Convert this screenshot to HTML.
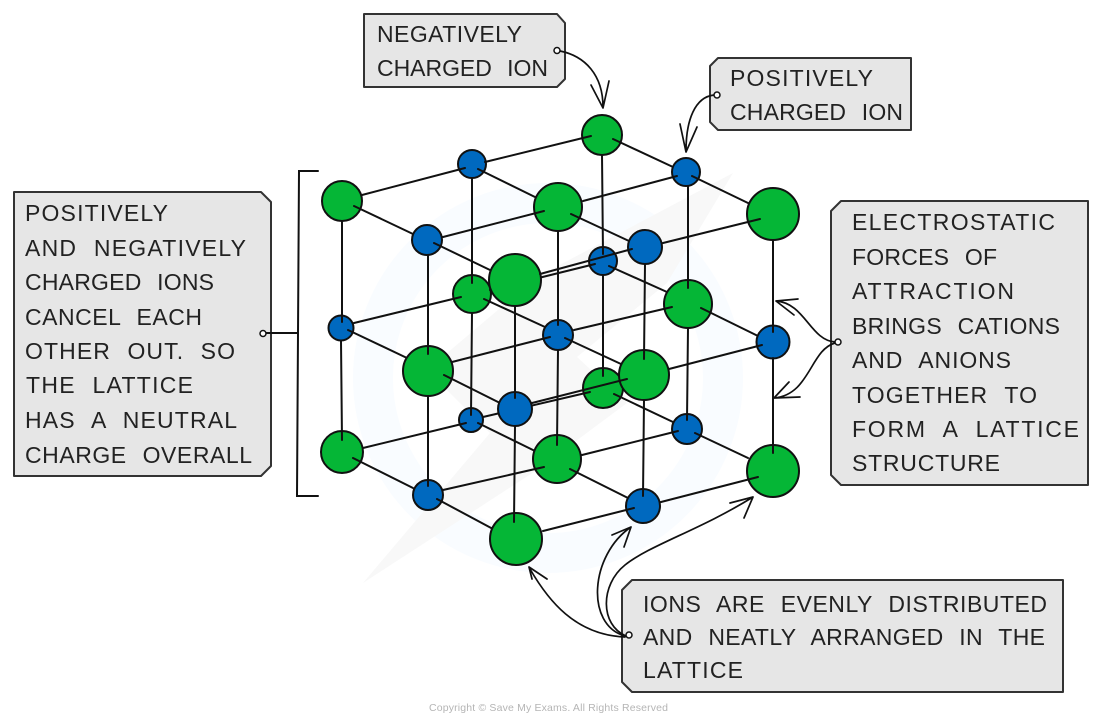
<!DOCTYPE html>
<html><head><meta charset="utf-8"><style>
html,body{margin:0;padding:0;background:#fff}
svg{display:block}
.t{font-family:"Liberation Sans",sans-serif;font-size:23px;fill:#222;word-spacing:9px}
.b{fill:#e6e6e6;stroke:#333;stroke-width:2;stroke-linejoin:round}
.g{fill:#05b636;stroke:#111;stroke-width:2}
.u{fill:#0069bf;stroke:#111;stroke-width:2}
.l{fill:none;stroke:#111;stroke-width:2;stroke-linecap:round}
.a{fill:none;stroke:#111;stroke-width:1.7;stroke-linecap:round;stroke-linejoin:round}
</style></head><body>
<svg width="1100" height="726" viewBox="0 0 1100 726" xmlns="http://www.w3.org/2000/svg">
<rect width="1100" height="726" fill="#fff"/>
<!-- watermark -->
<circle cx="548" cy="378" r="175" fill="none" stroke="#f9fcff" stroke-width="40"/>
<path d="M733 173L537 277L427 370L490 433L363 583L537 470L627 403L577 357L667 283Z" fill="#f8f8f8"/>

<!-- ROW 0 nodes -->
<circle class="g" cx="342" cy="201" r="20"/><circle class="u" cx="472" cy="164" r="14"/><circle class="g" cx="602" cy="135" r="20"/>
<circle class="u" cx="341" cy="328" r="12.5"/><circle class="g" cx="472" cy="294" r="19"/><circle class="u" cx="603" cy="261" r="14"/>
<circle class="g" cx="342" cy="452" r="21"/><circle class="u" cx="471" cy="420" r="12"/><circle class="g" cx="603" cy="388" r="20"/>
<!-- ROW 0 lines -->
<path class="l" d="M362 195L465 168M485 162L591 136M354 323L461 297M490 290L595 264M363 448L466 423M483 417L590 392
M342 221V322M341 341L342 440M472 178V283M472 313L471 415M602 155L603 254M603 275V376
M354 206L413 234M348 330L407 358M353 458L413 488M478 169L537 198M484 299L545 327M478 423L535 451M613 139L673 167M609 266L667 292M614 394L673 422"/>

<!-- ROW 1 nodes -->
<circle class="u" cx="427" cy="240" r="15"/><circle class="g" cx="558" cy="207" r="24"/><circle class="u" cx="686" cy="172" r="14"/>
<circle class="g" cx="428" cy="371" r="25"/><circle class="u" cx="558" cy="335" r="15"/><circle class="g" cx="688" cy="304" r="24"/>
<circle class="u" cx="428" cy="495" r="15"/><circle class="g" cx="557" cy="459" r="24"/><circle class="u" cx="687" cy="429" r="15"/>
<!-- ROW 1 lines -->
<path class="l" d="M443 237L544 211M583 201L677 176M452 362L550 337M574 330L672 307M443 490L544 467M582 455L678 431
M428 255V354M428 396V486M558 231V325M558 350L557 445M688 186V288M688 328L687 420
M434 243L490 270M444 375L500 403M437 499L493 529M571 214L629 241M565 338L621 364M570 469L628 498M692 176L748 203M701 308L758 336M695 433L748 458"/>

<!-- ROW 2 nodes -->
<circle class="g" cx="515" cy="280" r="26"/><circle class="u" cx="645" cy="247" r="17"/><circle class="g" cx="773" cy="214" r="26"/>
<circle class="u" cx="515" cy="409" r="17"/><circle class="g" cx="644" cy="375" r="25"/><circle class="u" cx="773" cy="342" r="16.5"/>
<circle class="g" cx="516" cy="539" r="26"/><circle class="u" cx="643" cy="506" r="17"/><circle class="g" cx="773" cy="471" r="26"/>
<!-- ROW 2 lines -->
<path class="l" d="M540 274L632 249M663 243L760 219M532 403L627 379M669 369L762 345M543 531L634 508M661 502L758 477
M515 306V398M515 426L514 522M645 264L644 359M644 400L643 496M773 240V332M773 358V453"/>

<!-- boxes -->
<path class="b" d="M364 14H557L565 23V79L557 87H364Z"/>
<path class="b" d="M718 58H911V130H718L710 122V66Z"/>
<path class="b" d="M14 192H261L271 202V466L261 476H14Z"/>
<path class="b" d="M841 201H1088V485H841L831 475V211Z"/>
<path class="b" d="M632 580H1063V692H632L622 682V590Z"/>

<!-- bracket -->
<path class="l" d="M318 171H299L297 496H318M266 333H298"/>

<!-- arrows -->
<path class="a" d="M560 51C585 56 603 75 603 107M591 85L603 108L609 81"/>
<path class="a" d="M714 95C695 97 686 120 686 151M680 124L686 152L697 127"/>
<path class="a" d="M776 301C805 303 810 340 835 342M798 299L776 301L794 315"/>
<path class="a" d="M835 343C810 350 810 395 774 398M789 382L774 398L800 397"/>
<path class="a" d="M530 569C548 600 575 635 625 637M532 579L529 567L547 579"/>
<path class="a" d="M631 527C590 555 585 625 625 636M612 535L631 527L624 547"/>
<path class="a" d="M753 497C700 530 650 545 625 565C600 585 600 625 626 636M730 503L753 497L744 518"/>

<!-- connector dots -->
<g fill="#fff" stroke="#111" stroke-width="1.5">
<circle cx="557" cy="50.5" r="3"/><circle cx="717" cy="95" r="3"/><circle cx="263" cy="333.5" r="3"/><circle cx="838" cy="342" r="3"/><circle cx="629" cy="635" r="3"/>
</g>

<!-- labels -->
<text class="t" x="377" y="42" textLength="145">NEGATIVELY</text>
<text class="t" x="377" y="76" textLength="171">CHARGED ION</text>
<text class="t" x="730" y="86" textLength="143">POSITIVELY</text>
<text class="t" x="730" y="120" textLength="173">CHARGED ION</text>

<text class="t" x="25" y="221" textLength="143">POSITIVELY</text>
<text class="t" x="25" y="256" textLength="221">AND NEGATIVELY</text>
<text class="t" x="25" y="290" textLength="189">CHARGED IONS</text>
<text class="t" x="25" y="325" textLength="177">CANCEL EACH</text>
<text class="t" x="25" y="359" textLength="210">OTHER OUT. SO</text>
<text class="t" x="26" y="393" textLength="167">THE LATTICE</text>
<text class="t" x="25" y="428" textLength="212">HAS A NEUTRAL</text>
<text class="t" x="25" y="463" textLength="227">CHARGE OVERALL</text>

<text class="t" x="852" y="230" textLength="203">ELECTROSTATIC</text>
<text class="t" x="852" y="265" textLength="145">FORCES OF</text>
<text class="t" x="852" y="299" textLength="162">ATTRACTION</text>
<text class="t" x="852" y="334" textLength="208">BRINGS CATIONS</text>
<text class="t" x="852" y="368" textLength="159">AND ANIONS</text>
<text class="t" x="852" y="403" textLength="185">TOGETHER TO</text>
<text class="t" x="852" y="437" textLength="227">FORM A LATTICE</text>
<text class="t" x="852" y="471" textLength="148">STRUCTURE</text>

<text class="t" x="643" y="612" textLength="404">IONS ARE EVENLY DISTRIBUTED</text>
<text class="t" x="643" y="645" textLength="402">AND NEATLY ARRANGED IN THE</text>
<text class="t" x="643" y="678" textLength="100">LATTICE</text>

<text x="429" y="711" textLength="239" font-family="Liberation Sans, sans-serif" font-size="10.5" fill="#b5b5b5">Copyright © Save My Exams. All Rights Reserved</text>
</svg>
</body></html>
